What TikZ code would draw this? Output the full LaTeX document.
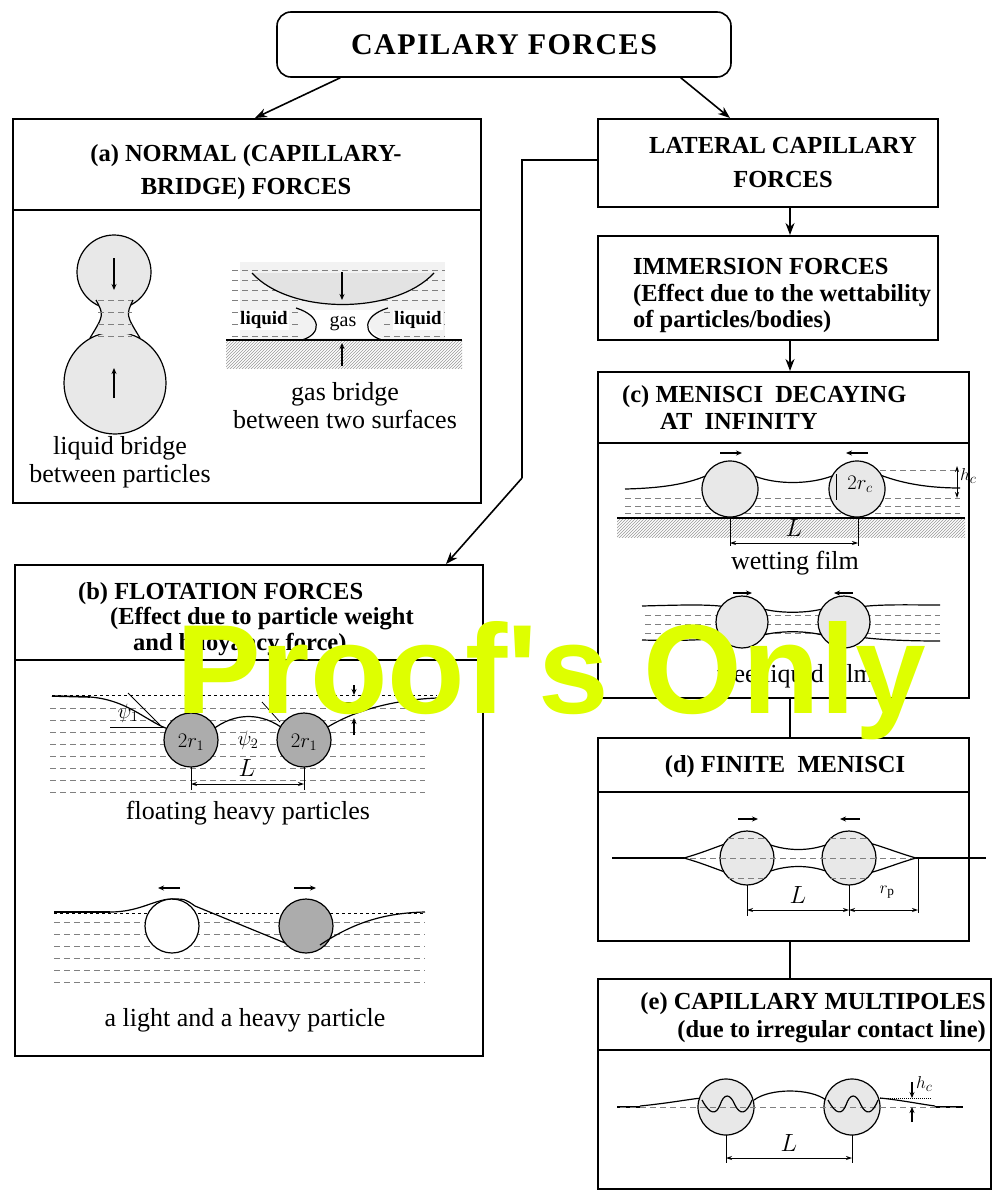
\documentclass[tikz,border=0pt]{standalone}
\usepackage{fontspec}
\setmainfont{Liberation Serif}
\newfontfamily\wmfont{Liberation Sans}
\usetikzlibrary{arrows.meta,patterns}
\definecolor{wm}{RGB}{222,255,0}
\begin{document}
\begin{tikzpicture}[x=1pt,y=-1pt,
  frame/.style={draw,line width=1.6pt},
  hdr/.style={font=\fontsize{24.5}{26}\selectfont\bfseries,inner sep=0pt},
  capt/.style={font=\fontsize{26}{28}\selectfont,align=center,inner sep=0pt},
  conn/.style={line width=1.6pt},
  arr/.style={line width=1.6pt,-{Stealth[length=12pt,width=9pt]}},
  sarr/.style={line width=1.1pt,-{Stealth[length=6pt,width=5pt]}},
  dim/.style={line width=0.9pt,{Stealth[length=6pt,width=4pt]}-{Stealth[length=6pt,width=4pt]}},
  liq/.style={dashed,gray,line width=0.9pt,dash pattern=on 6pt off 4pt},
  pl/.style={fill=gray!18,draw,line width=1.2pt},
  ph/.style={fill=gray!65,draw,line width=1.2pt},
  men/.style={line width=1.2pt},
  lbl/.style={font=\fontsize{20}{22}\selectfont,inner sep=0pt},
  hatch/.style={pattern=north east lines,pattern color=gray!80}]
\useasboundingbox (0,0) rectangle (1008,1193);
\fill[white] (0,0) rectangle (1008,1193);

% ---------- title
\node[draw,line width=1.6pt,rounded corners=14pt,minimum width=454pt,minimum height=65pt,
  font=\fontsize{30}{32}\selectfont\bfseries\addfontfeature{LetterSpace=5}] (title) at (504,44.5) {CAPILARY FORCES};

% ---------- boxes
\node[frame,minimum width=468pt,minimum height=384pt,anchor=north west,inner sep=0pt] (A) at (12,118) {};
\draw[line width=1.4pt] (12,210) -- (480,210);
\node[hdr,anchor=base] at (246,162) {(a) NORMAL (CAPILLARY-};
\node[hdr,anchor=base] at (246,194) {BRIDGE) FORCES};

\node[frame,minimum width=340pt,minimum height=88pt,anchor=north west,inner sep=0pt] (lat) at (597,118) {};
\node[hdr,anchor=base] at (783,154) {LATERAL CAPILLARY};
\node[hdr,anchor=base] at (783,187) {FORCES};

\node[frame,minimum width=340pt,minimum height=104pt,anchor=north west,inner sep=0pt] (imm) at (597,235) {};
\node[hdr,anchor=base west] at (633,274) {IMMERSION FORCES};
\node[hdr,anchor=base west] at (633,301) {(Effect due to the wettability};
\node[hdr,anchor=base west] at (633,327) {of particles/bodies)};

\node[frame,minimum width=371pt,minimum height=326pt,anchor=north west,inner sep=0pt] (C) at (597,371) {};
\draw[line width=1.4pt] (597,443) -- (968,443);
\node[hdr,anchor=base west] at (622,402) {(c) MENISCI\ \ DECAYING};
\node[hdr,anchor=base west] at (660,429) {AT\ \ INFINITY};

\node[frame,minimum width=371pt,minimum height=203pt,anchor=north west,inner sep=0pt] (D) at (597,737) {};
\draw[line width=1.4pt] (597,792) -- (968,792);
\node[hdr,anchor=base] at (785,772) {(d) FINITE\ \ MENISCI};

\node[frame,minimum width=393pt,minimum height=210pt,anchor=north west,inner sep=0pt] (E) at (597,978) {};
\draw[line width=1.4pt] (597,1050) -- (990,1050);
\node[hdr,anchor=base east] at (986,1009) {(e) CAPILLARY MULTIPOLES};
\node[hdr,anchor=base east] at (986,1037) {(due to irregular contact line)};

\node[frame,minimum width=468pt,minimum height=491pt,anchor=north west,inner sep=0pt] (B) at (14,564) {};
\draw[line width=1.4pt] (14,660) -- (482,660);
\node[hdr,anchor=base west] at (78,599) {(b) FLOTATION FORCES};
\node[hdr,anchor=base west] at (110,624) {(Effect due to particle weight};
\node[hdr,anchor=base west] at (133,650) {and buoyancy force)};

% ---------- connectors
\draw[arr] (title.south west) ++(64,0) coordinate (t1) -- (A.north -| 255,0);
\draw[arr] (title.south east) ++(-51,0) coordinate (t2) -- (lat.north -| 730,0);
\coordinate (k1) at (522,160); \coordinate (k2) at (522,478);
\draw[conn] (lat.west |- k1) -- (k1) -- (k2);
\draw[arr] (k2) -- (B.north -| 446,0);
\draw[arr] (lat.south -| 790,0) -- (imm.north -| 790,0);
\draw[arr] (imm.south -| 790,0) -- (C.north -| 790,0);
\draw[conn] (C.south -| 790,0) -- (D.north -| 790,0);
\draw[conn] (D.south -| 790,0) -- (E.north -| 790,0);

% ---------- (a) liquid bridge
\draw[pl] (114,272) circle (37);
\draw[pl] (115,383) circle (51);
\fill[gray!18] (97,302) .. controls (104,315) .. (92,334) -- (138,334) .. controls (126,315) .. (132,302) -- cycle;
\draw[men] (96,300) .. controls (104,315) .. (90,338);
\draw[men] (133,300) .. controls (126,315) .. (140,338);
\foreach \yy in {300,312,324,336} \draw[liq] (98,\yy) -- (132,\yy);
\draw[sarr] (114,258) -- (114,290);
\draw[sarr] (114,398) -- (114,368);
\node[capt] at (120,462) {liquid bridge\\between particles};

% ---------- (a) gas bridge
\fill[gray!10] (240,262) rectangle (445,340);
\fill[white] (302,310) .. controls (320,318) and (320,332) .. (305,338) -- (382,338) .. controls (366,332) and (366,318) .. (377,310) -- cycle;
\foreach \yy in {270,280,290,300} \draw[liq] (232,\yy) -- (445,\yy);
\foreach \yy in {312,324,336} {\draw[liq] (232,\yy) -- (300,\yy); \draw[liq] (384,\yy) -- (445,\yy);}
\fill[gray!22] (252,273) .. controls (290,315) and (395,315) .. (434,273) -- cycle;
\draw[men] (252,273) .. controls (290,315) and (395,315) .. (434,273);
\draw[men] (296,308) .. controls (322,316) and (322,334) .. (302,340);
\draw[men] (388,308) .. controls (362,316) and (362,334) .. (382,340);
\fill[hatch] (226,340) rectangle (462,368);
\draw[line width=1.3pt] (226,340) -- (462,340);
\node[font=\fontsize{19}{22}\selectfont\bfseries,fill=white,inner sep=1pt] at (264,320) {liquid};
\node[font=\fontsize{19}{22}\selectfont\bfseries,fill=white,inner sep=1pt] at (418,320) {liquid};
\node[lbl] at (343,324) {gas};
\draw[sarr] (342,272) -- (342,300);
\draw[sarr] (342,366) -- (342,343);
\node[capt] at (345,406) {gas bridge\\between two surfaces};

% ---------- (b) floating heavy particles
\foreach \yy in {708,720,732,744,756,768,780,792} \draw[liq] (50,\yy) -- (425,\yy);
\draw[dashed,line width=1pt] (52,695) -- (437,695);
\draw[line width=1.6pt] (52,696) -- (90,697);
\draw[men] (90,697) .. controls (130,700) and (150,725) .. (172,730);
\draw[men] (212,730) .. controls (235,712) and (262,712) .. (285,730);
\draw[men] (323,730) .. controls (350,712) and (390,700) .. (437,698);
\draw[ph] (191,740) circle (27);
\draw[ph] (304,740) circle (27);
\draw[line width=0.8pt] (128,693) -- (160,725);
\draw[line width=0.8pt] (262,702) -- (280,722);
\draw[line width=0.8pt] (110,727) -- (165,727);
\node[lbl] at (128,713) {$\psi_1$};
\node[lbl] at (248,740) {$\psi_2$};
\node[lbl] at (191,742) {$2r_1$};
\node[lbl] at (304,742) {$2r_1$};
\draw[sarr] (360,703) -- (330,703);
\draw[sarr] (354,685) -- (354,695);
\draw[sarr] (354,735) -- (354,718);
\draw[line width=0.9pt] (191,767) -- (191,790);
\draw[line width=0.9pt] (304,767) -- (304,790);
\draw[dim] (191,784) -- (304,784);
\node[font=\fontsize{24}{26}\selectfont\itshape] at (247,768) {$L$};
\node[capt] at (248,813) {floating heavy particles};

% ---------- (b) light and heavy
\foreach \yy in {922,934,946,958,970,982} \draw[liq] (54,\yy) -- (425,\yy);
\draw[dashed,line width=1pt] (54,913) -- (425,913);
\draw[line width=1.6pt] (54,912) -- (110,912);
\draw[men] (110,912) .. controls (140,912) and (155,899) .. (172,899);
\fill[white] (172,926) circle (27);
\draw[line width=1.2pt] (172,926) circle (27);
\draw[men] (172,899) .. controls (185,899) .. (195,906) -- (290,945);
\draw[ph] (306,926) circle (27);
\draw[men] (320,945) .. controls (350,925) and (380,913) .. (425,912);
\draw[sarr] (180,888) -- (158,888);
\draw[sarr] (294,888) -- (316,888);
\node[capt] at (245,1020) {a light and a heavy particle};

% ---------- (c) wetting film
\fill[hatch] (617,518) rectangle (965,537);
\foreach \yy in {498,506,513} \draw[liq] (625,\yy) -- (960,\yy);
\draw[liq] (860,470) -- (960,470);
\draw[men] (625,489) .. controls (670,488) and (695,482) .. (714,472);
\draw[men] (746,472) .. controls (770,486) and (815,486) .. (841,472);
\draw[men] (873,472) .. controls (900,484) and (930,488) .. (960,488);
\draw[pl] (730,489) circle (28);
\draw[pl] (857,489) circle (28);
\draw[line width=1.4pt] (617,518) -- (965,518);
\draw[line width=0.8pt] (836,474) -- (836,500);
\node[font=\fontsize{22}{24}\selectfont] at (860,484) {$2r_c$};
\draw[dim] (957,466) -- (957,498);
\node[font=\fontsize{19}{20}\selectfont,anchor=west,inner sep=0pt] at (960,476) {$h_c$};
\draw[line width=0.9pt] (730,518) -- (730,546);
\draw[line width=0.9pt] (858,518) -- (858,546);
\draw[dim] (730,543) -- (858,543);
\node[font=\fontsize{24}{26}\selectfont\itshape] at (794,528) {$L$};
\draw[sarr] (720,453) -- (742,453);
\draw[sarr] (868,453) -- (846,453);
\node[capt] at (795,563) {wetting film};

% ---------- (c) free liquid film
\foreach \yy in {615,624,633} \draw[liq] (645,\yy) -- (940,\yy);
\draw[men] (642,606) .. controls (680,605) and (710,604) .. (727,607);
\draw[men] (757,607) .. controls (775,614) and (810,614) .. (829,607);
\draw[men] (859,607) .. controls (880,604) and (910,605) .. (940,605);
\draw[men] (642,640) .. controls (680,641) and (710,640) .. (727,637);
\draw[men] (757,637) .. controls (775,630) and (810,630) .. (829,637);
\draw[men] (859,637) .. controls (880,640) and (910,641) .. (940,641);
\draw[pl] (742,622) circle (26);
\draw[pl] (844,622) circle (26);
\draw[sarr] (733,593) -- (752,593);
\draw[sarr] (853,593) -- (834,593);
\node[capt] at (795,676) {free liquid film};

% ---------- (d) finite menisci
\draw[line width=1.4pt] (612,858) -- (684,858);
\draw[line width=1.4pt] (916,858) -- (986,858);
\draw[men] (684,858) .. controls (705,852) and (718,846) .. (731,842);
\draw[men] (684,858) .. controls (705,864) and (718,870) .. (731,874);
\draw[men] (763,842) .. controls (785,852) and (812,852) .. (833,842);
\draw[men] (763,874) .. controls (785,864) and (812,864) .. (833,874);
\draw[men] (916,858) .. controls (895,852) and (882,846) .. (865,842);
\draw[men] (916,858) .. controls (895,864) and (882,870) .. (865,874);
\draw[pl] (747,858) circle (27);
\draw[pl] (849,858) circle (27);
\foreach \yy in {838,878} {\draw[liq] (728,\yy) -- (766,\yy); \draw[liq] (830,\yy) -- (868,\yy);}
\draw[liq] (690,858) -- (912,858);
\draw[sarr] (738,819) -- (758,819);
\draw[sarr] (860,819) -- (840,819);
\draw[line width=0.9pt] (747,885) -- (747,916);
\draw[line width=0.9pt] (849,885) -- (849,916);
\draw[line width=0.9pt] (918,858) -- (918,913);
\draw[dim] (747,910) -- (849,910);
\draw[dim] (849,910) -- (918,910);
\node[font=\fontsize{24}{26}\selectfont\itshape] at (798,895) {$L$};
\node[font=\fontsize{19}{20}\selectfont] at (887,892) {$r_\mathrm{p}$};

% ---------- (e) multipoles
\draw[line width=1.4pt] (617,1107) -- (640,1107);
\draw[line width=1.4pt] (935,1107) -- (963,1107);
\draw[men] (640,1106) .. controls (670,1103) and (690,1099) .. (702,1098);
\draw[men] (754,1100) .. controls (770,1088) and (810,1088) .. (826,1100);
\draw[men] (880,1098) .. controls (900,1100) and (920,1104) .. (935,1106);
\draw[pl] (726,1107) circle (28);
\draw[pl] (852,1107) circle (28);
\draw[liq] (620,1107) -- (960,1107);
\draw[men] (702,1100) .. controls (710,1115) and (716,1115) .. (720,1105) .. controls (724,1093) and (730,1093) .. (735,1105) .. controls (740,1115) and (746,1115) .. (752,1100);
\draw[men] (828,1100) .. controls (836,1115) and (842,1115) .. (846,1105) .. controls (850,1093) and (856,1093) .. (861,1105) .. controls (866,1115) and (872,1115) .. (878,1100);
\draw[densely dotted,line width=1pt] (880,1098) -- (932,1098);
\draw[sarr] (912,1082) -- (912,1098);
\draw[sarr] (912,1122) -- (912,1107);
\node[font=\fontsize{19}{20}\selectfont,anchor=west,inner sep=0pt] at (916,1084) {$h_c$};
\draw[line width=0.9pt] (726,1135) -- (726,1163);
\draw[line width=0.9pt] (852,1135) -- (852,1163);
\draw[dim] (726,1158) -- (852,1158);
\node[font=\fontsize{24}{26}\selectfont\itshape] at (789,1143) {$L$};

% ---------- watermark
\node[wm,font=\wmfont\fontsize{127}{127}\selectfont\bfseries,anchor=base west,inner sep=0pt] (mark) at (176,713) {Proof's Only};
\end{tikzpicture}
\end{document}
